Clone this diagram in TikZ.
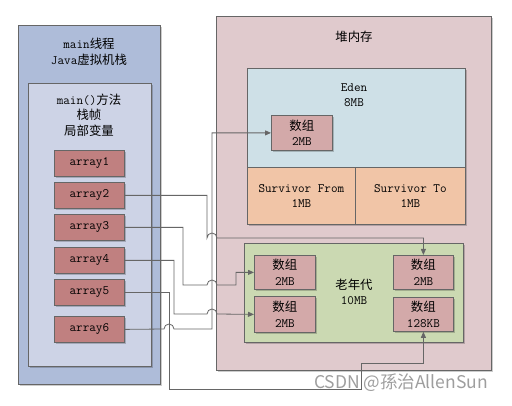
\documentclass[tikz,border=0pt]{standalone}
\usepackage{fontspec}
\setmonofont{Latin Modern Mono}
\newfontfamily\cjk[Scale=0.97]{Noto Sans CJK SC}
\newfontfamily\wmfont{Noto Sans CJK SC}
\usetikzlibrary{arrows.meta,shadows}
\definecolor{stackc}{HTML}{AEBCD9}
\definecolor{framec}{HTML}{CDD3E6}
\definecolor{arrc}{HTML}{C08080}
\definecolor{heapc}{HTML}{E0CACD}
\definecolor{edenc}{HTML}{CEE0E7}
\definecolor{survc}{HTML}{F1C5A7}
\definecolor{oldc}{HTML}{CBD9B2}
\definecolor{objc}{HTML}{D3A9A9}
\definecolor{linec}{HTML}{666666}
\begin{document}
\begin{tikzpicture}[x=1pt,y=-1pt,
  box/.style={draw=linec, line width=0.8pt, rectangle, inner sep=0pt, anchor=north west,
    drop shadow={shadow xshift=1.5pt, shadow yshift=-1.5pt, opacity=0.2, fill=black}},
  arr/.style={box, fill=arrc, minimum width=70pt, minimum height=26pt},
  obj/.style={box, fill=objc, align=center},
  lbl/.style={align=center, inner sep=0pt},
  wire/.style={draw=linec, line width=0.8pt},
  conn/.style={wire, -{Triangle[length=6pt,width=5pt]}},
  font=\ttfamily\fontsize{12.8}{15.5}\selectfont]
\useasboundingbox (0,0) rectangle (512,406);
\fill[white] (0,0) rectangle (512,406);

% stack side
\node[box, fill=stackc, minimum width=142pt, minimum height=359pt] (stack) at (18,25) {};
\node[lbl] (stacklbl) at (89,52) {main{\cjk 线程}\\Java{\cjk 虚拟机栈}};
\node[box, fill=framec, minimum width=123pt, minimum height=283pt] (frame) at (28,83) {};
\node[lbl] (framelbl) at (89,115) {main(){\cjk 方法}\\{\cjk 栈帧}\\{\cjk 局部变量}};
\node[arr] (a1) at (54,150) {array1};
\node[arr] (a2) at (54,182) {array2};
\node[arr] (a3) at (54,214) {array3};
\node[arr] (a4) at (54,247) {array4};
\node[arr] (a5) at (54,279) {array5};
\node[arr] (a6) at (54,316) {array6};

% heap side
\node[box, fill=heapc, minimum width=275pt, minimum height=354pt] (heap) at (216,16) {};
\node[lbl] (heaplbl) at (354,37) {\cjk 堆内存};
\node[box, fill=edenc, minimum width=218pt, minimum height=99pt] (eden) at (247,68) {};
\node[lbl] (edenlbl) at (354,95) {Eden\\8MB};
\node[box, fill=survc, minimum width=108pt, minimum height=57pt, align=center] (sfrom) at (247,167) {Survivor From\\1MB};
\node[box, fill=survc, minimum width=110pt, minimum height=57pt, align=center] (sto) at (355,167) {Survivor To\\1MB};
\node[obj, minimum width=61pt, minimum height=35pt] (eobj) at (271,115) {{\cjk 数组}\\2MB};

\node[box, fill=oldc, minimum width=219pt, minimum height=99pt] (old) at (244,243) {};
\node[lbl] (oldlbl) at (354,292) {{\cjk 老年代}\\10MB};
\node[obj, minimum width=61pt, minimum height=34pt] (oa) at (254,255) {{\cjk 数组}\\2MB};
\node[obj, minimum width=61pt, minimum height=36pt] (ob) at (254,296) {{\cjk 数组}\\2MB};
\node[obj, minimum width=60pt, minimum height=34pt] (oc) at (393,255) {{\cjk 数组}\\2MB};
\node[obj, minimum width=60pt, minimum height=34pt] (od) at (393,297) {{\cjk 数组}\\128KB};

% connectors
\draw[conn] (a2.east) -| (207,238) arc[start angle=180, end angle=0, radius=5pt] -| (oc.north);
\draw[conn] (a3.east) -| (183,285) -- (207,285) arc[start angle=180, end angle=0, radius=5pt] -- (236,285) |- (oa.west);
\draw[conn] (a4.east) -| (174,314) -- (207,314) arc[start angle=180, end angle=0, radius=5pt] -- (ob.west);
\draw[conn] (a5.east) -| (169,389) -| (361,363) -| (od.south);
\draw[conn] (a6.east) -- (164,329) arc[start angle=180, end angle=0, radius=5pt] -- (212,329) |- (eobj.west);

% watermark
\node[text=black!38, font=\wmfont\fontsize{17.5}{17.5}\selectfont, inner sep=0pt] (wm) at (401,383) {CSDN @孫治AllenSun};
\end{tikzpicture}
\end{document}
